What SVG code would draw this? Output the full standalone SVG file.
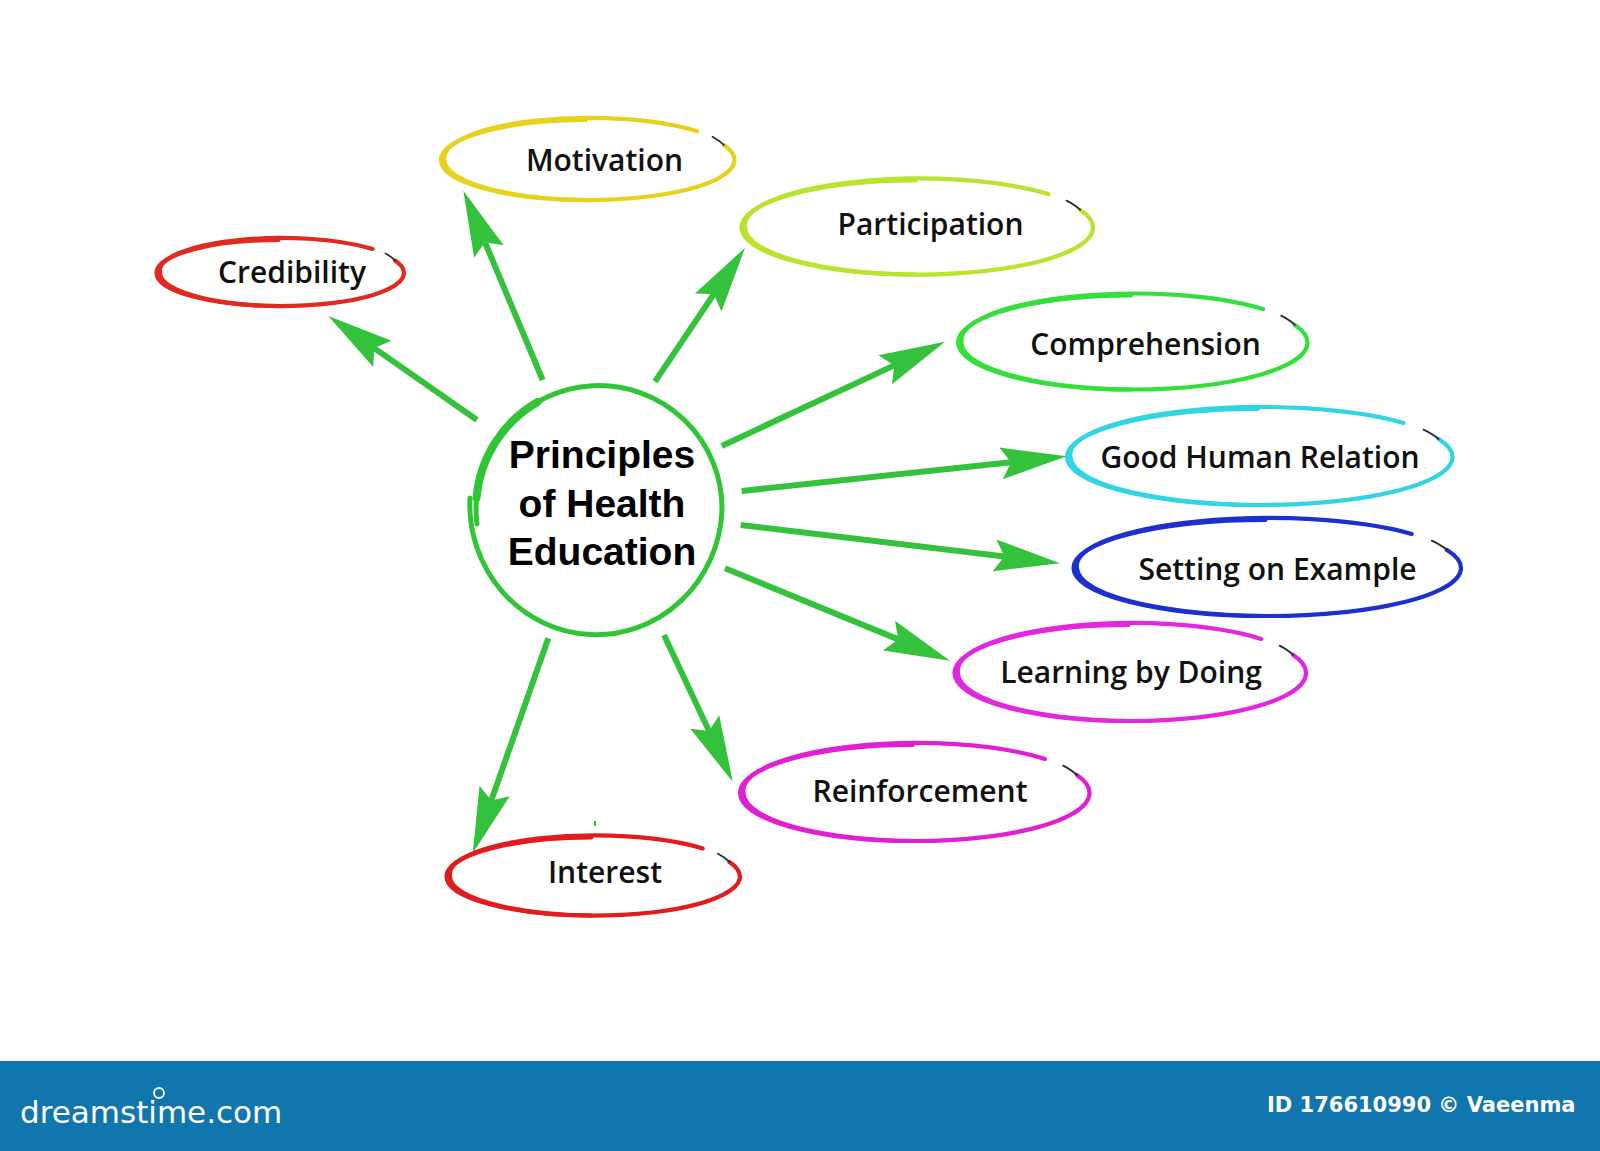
<svg xmlns="http://www.w3.org/2000/svg" width="1600" height="1151" viewBox="0 0 1600 1151">
<style>
.ring{fill:none;stroke-width:4.2;stroke-linecap:round}
.tick{fill:none;stroke:#2b2b2b;stroke-width:1.8;stroke-linecap:round}
.lbl{font-family:"Open Sans","Noto Sans",sans-serif;font-weight:600;font-size:30px;fill:#111;text-anchor:middle}
.ctr{font-family:"Liberation Sans",Arial,sans-serif;font-weight:700;font-size:39px;fill:#000;text-anchor:middle}
.conn line{stroke:#34c23c;stroke-width:6;marker-end:url(#ah)}
</style>
<defs>
<marker id="ah" markerUnits="userSpaceOnUse" viewBox="-70 -20 74 40" markerWidth="74" markerHeight="40" refX="-56" refY="0" orient="auto">
<path d="M0,0 L-66,-16 L-56,0 L-66,16 Z" fill="#34c23c"/>
</marker>
</defs>
<rect width="1600" height="1151" fill="#ffffff"/>

<g id="connectors" class="conn">
<line x1="477" y1="420" x2="374.2" y2="348.1"/>
<line x1="542.7" y1="380" x2="485" y2="242.3"/>
<line x1="655" y1="381.7" x2="713.8" y2="294.2"/>
<line x1="721.7" y1="446" x2="894.3" y2="365.4"/>
<line x1="741.7" y1="491" x2="1011" y2="462.3"/>
<line x1="740.7" y1="525" x2="1004.4" y2="556.6"/>
<line x1="725" y1="568.3" x2="898.2" y2="639.4"/>
<line x1="548.3" y1="638.3" x2="491.3" y2="800.5"/>
<line x1="664" y1="635" x2="709" y2="731"/>
</g>
<path d="M595 821 L595 826" stroke="#34c23c" stroke-width="2" fill="none"/>

<g id="center">
<path d="M 470 498 A 126 130 0 1 0 722 511 A 123 123 0 1 0 477 524" fill="none" stroke="#2fc536" stroke-width="5" stroke-linecap="round"/>
<path d="M 537.5 402 A 123 123 0 0 0 476.5 497.8" fill="none" stroke="#2fc536" stroke-width="8" stroke-linecap="round"/>
<text class="ctr" x="602" y="468">Principles</text>
<text class="ctr" x="602" y="517">of Health</text>
<text class="ctr" x="602" y="565">Education</text>
</g>

<g id="credibility">
<path class="ring" stroke="#e02a1f" d="M 395.1 260.6 A 122 33 0 1 1 160 273 A 122 33 0 0 1 372.6 248.9"/>
<path class="ring" stroke="#e02a1f" d="M 278.5 240 A 122 33 0 0 0 278.5 306"/>
<path class="tick" d="M 385.5 253.5 A 122 33 0 0 1 395.1 260.6"/>
<text class="lbl" x="292" y="283">Credibility</text>
</g>

<g id="motivation">
<path class="ring" stroke="#e6d21c" d="M 723.9 145 A 145 40 0 1 1 444.5 160 A 145 40 0 0 1 697.2 131.2"/>
<path class="ring" stroke="#e6d21c" d="M 586 120 A 145 40 0 0 0 586 200"/>
<path class="tick" d="M 712.5 136.8 A 145 40 0 0 1 723.9 145"/>
<text class="lbl" x="604.5" y="171">Motivation</text>
</g>

<g id="participation">
<path class="ring" stroke="#bbe22c" d="M 1080.3 209.9 A 174 47 0 1 1 745 227.5 A 174 47 0 0 1 1048.3 194.1"/>
<path class="ring" stroke="#bbe22c" d="M 915.5 180.5 A 174 47 0 0 0 915.5 274.5"/>
<path class="tick" d="M 1066.6 200.6 A 174 47 0 0 1 1080.3 209.9"/>
<text class="lbl" x="930.5" y="235">Participation</text>
</g>

<g id="comprehension">
<path class="ring" stroke="#33e03b" d="M 1294.9 324.9 A 173 47 0 1 1 961.5 342.5 A 173 47 0 0 1 1263 309.1"/>
<path class="ring" stroke="#33e03b" d="M 1131 295.5 A 173 47 0 0 0 1131 389.5"/>
<path class="tick" d="M 1281.2 315.6 A 173 47 0 0 1 1294.9 324.9"/>
<text class="lbl" x="1145.5" y="355">Comprehension</text>
</g>

<g id="good-human-relation">
<path class="ring" stroke="#30d4e2" d="M 1438.6 439 A 191 48 0 1 1 1070.5 457 A 191 48 0 0 1 1403.4 422.9"/>
<path class="ring" stroke="#30d4e2" d="M 1258 409 A 191 48 0 0 0 1258 505"/>
<path class="tick" d="M 1423.5 429.6 A 191 48 0 0 1 1438.6 439"/>
<text class="lbl" x="1260" y="468">Good Human Relation</text>
</g>

<g id="setting-on-example">
<path class="ring" stroke="#1d30cf" d="M 1447 550 A 192 48 0 1 1 1077 568 A 192 48 0 0 1 1411.7 533.9"/>
<path class="ring" stroke="#1d30cf" d="M 1265.5 520 A 192 48 0 0 0 1265.5 616"/>
<path class="tick" d="M 1431.8 540.6 A 192 48 0 0 1 1447 550"/>
<text class="lbl" x="1277.5" y="580">Setting on Example</text>
</g>

<g id="learning-by-doing">
<path class="ring" stroke="#e227df" d="M 1293.3 655 A 174 48 0 1 1 958 673 A 174 48 0 0 1 1261.3 638.9"/>
<path class="ring" stroke="#e227df" d="M 1128.5 625 A 174 48 0 0 0 1128.5 721"/>
<path class="tick" d="M 1279.6 645.6 A 174 48 0 0 1 1293.3 655"/>
<text class="lbl" x="1131" y="683">Learning by Doing</text>
</g>

<g id="reinforcement">
<path class="ring" stroke="#e21fd0" d="M 1076.9 775 A 173 48 0 1 1 743.5 793 A 173 48 0 0 1 1045 758.9"/>
<path class="ring" stroke="#e21fd0" d="M 913 745 A 173 48 0 0 0 913 841"/>
<path class="tick" d="M 1063.2 765.6 A 173 48 0 0 1 1076.9 775"/>
<text class="lbl" x="920" y="802">Reinforcement</text>
</g>

<g id="interest">
<path class="ring" stroke="#e21c1c" d="M 729.4 861.9 A 145 39 0 1 1 450 876.5 A 145 39 0 0 1 702.7 848.4"/>
<path class="ring" stroke="#e21c1c" d="M 591.5 837.5 A 145 39 0 0 0 591.5 915.5"/>
<path class="tick" d="M 718 853.8 A 145 39 0 0 1 729.4 861.9"/>
<text class="lbl" x="605" y="883">Interest</text>
</g>

<g id="banner">
<rect x="0" y="1061" width="1600" height="90" fill="#1176ae"/>
<text x="20" y="1123" font-family="'DejaVu Sans',sans-serif" font-size="31" fill="#ffffff">dreamstime.com</text>
<circle cx="159" cy="1093" r="5" fill="none" stroke="#ffffff" stroke-width="1.8"/>
<text x="1267" y="1112" font-family="'DejaVu Sans',sans-serif" font-weight="700" font-size="21" fill="#ffffff">ID 176610990 © Vaeenma</text>
</g>
</svg>
